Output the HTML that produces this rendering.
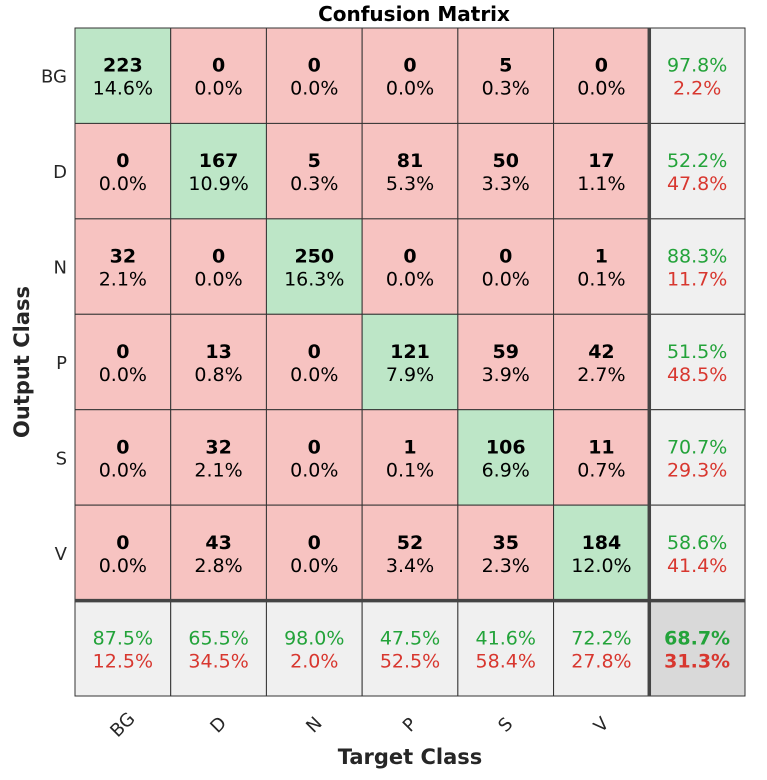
<!DOCTYPE html>
<html><head><meta charset="utf-8"><style>
html,body{margin:0;padding:0;background:#fff;}
svg{display:block;font-family:"DejaVu Sans","Liberation Sans",sans-serif;}
</style></head><body>
<svg id="chart" width="767" height="780" viewBox="0 0 767 780" xmlns="http://www.w3.org/2000/svg">
<text x="414" y="21" text-anchor="middle" font-size="20" font-weight="bold" fill="#000">Confusion Matrix</text>
<text x="410" y="764" text-anchor="middle" font-size="21" font-weight="bold" fill="#262626">Target Class</text>
<text transform="translate(29,362) rotate(-90)" text-anchor="middle" font-size="21" font-weight="bold" fill="#262626">Output Class</text>
<g id="cells"></g>
</svg>
<script>
const classes = ["BG","D","N","P","S","V"];
const counts = [
  [223,0,0,0,5,0],
  [0,167,5,81,50,17],
  [32,0,250,0,0,1],
  [0,13,0,121,59,42],
  [0,32,0,1,106,11],
  [0,43,0,52,35,184]
];
const NS="http://www.w3.org/2000/svg";
const svg=document.getElementById('chart');
const g=document.getElementById('cells');
const x0=75,y0=28,cw=(745-75)/7,ch=(696-28)/7;
const n=classes.length;
const total=counts.flat().reduce((a,b)=>a+b,0);
function colX(j){return x0+j*cw;}
function rowY(i){return y0+i*ch;}
function rect(x,y,w,h,fill,name){const r=document.createElementNS(NS,'rect');r.setAttribute('x',x);r.setAttribute('y',y);r.setAttribute('width',w);r.setAttribute('height',h);r.setAttribute('fill',fill);r.setAttribute('stroke','#333');r.setAttribute('stroke-width','1');


g.appendChild(r);}
function txt(x,y,s,fill,bold,name){const t=document.createElementNS(NS,'text');t.setAttribute('x',x);t.setAttribute('y',y);t.setAttribute('text-anchor','middle');t.setAttribute('font-size','19');t.setAttribute('fill',fill);if(bold)t.setAttribute('font-weight','bold');t.textContent=s;


g.appendChild(t);}
const pct=v=>(v*100).toFixed(1)+'%';
const GREEN='#23a33a',RED='#d8372f';
const L1=-4,L2=19;
for(let i=0;i<n;i++){
  for(let j=0;j<n;j++){
    const x=colX(j),y=rowY(i);
    rect(x,y,cw,ch,i===j?'#bde6c7':'#f7c3c1','cell-'+classes[i]+'-'+classes[j]);
    txt(x+cw/2,y+ch/2+L1,String(counts[i][j]),'#000',true,'cell-count');
    txt(x+cw/2,y+ch/2+L2,pct(counts[i][j]/total),'#000',false,'cell-percent');
  }
  const rs=counts[i].reduce((a,b)=>a+b,0);const acc=rs?counts[i][i]/rs:0;
  const x=colX(n),y=rowY(i);
  rect(x,y,cw,ch,'#f0f0f0','row-summary-'+classes[i]);
  txt(x+cw/2,y+ch/2+L1,pct(acc),GREEN,false,'row-precision');
  txt(x+cw/2,y+ch/2+L2,pct(1-acc),RED,false,'row-error');
  const lt=document.createElementNS(NS,'text');lt.setAttribute('x',67);lt.setAttribute('y',y+ch/2+7);lt.setAttribute('text-anchor','end');lt.setAttribute('font-size','18');lt.setAttribute('fill','#262626');lt.textContent=classes[i];
  
  
  svg.appendChild(lt);
}
let diag=0;
for(let j=0;j<n;j++){
  let cs=0;for(let i=0;i<n;i++)cs+=counts[i][j];diag+=counts[j][j];
  const acc=cs?counts[j][j]/cs:0;const x=colX(j),y=rowY(n);
  rect(x,y,cw,ch,'#f0f0f0','col-summary-'+classes[j]);
  txt(x+cw/2,y+ch/2+L1,pct(acc),GREEN,false,'col-recall');
  txt(x+cw/2,y+ch/2+L2,pct(1-acc),RED,false,'col-error');
  const lt=document.createElementNS(NS,'text');const cx=x+cw/2+4,cy=729;
  lt.setAttribute('transform','translate('+cx+','+cy+') rotate(-45)');lt.setAttribute('text-anchor','middle');lt.setAttribute('font-size','18');lt.setAttribute('fill','#262626');lt.textContent=classes[j];
  
  
  svg.appendChild(lt);
}
const oa=diag/total;
rect(colX(n),rowY(n),cw,ch,'#d9d9d9','overall-summary');
txt(colX(n)+cw/2,rowY(n)+ch/2+L1,pct(oa),GREEN,true,'overall-accuracy');
txt(colX(n)+cw/2,rowY(n)+ch/2+L2,pct(1-oa),RED,true,'overall-error');
function line(x1,y1,x2,y2){const l=document.createElementNS(NS,'line');l.setAttribute('x1',x1);l.setAttribute('y1',y1);l.setAttribute('x2',x2);l.setAttribute('y2',y2);l.setAttribute('stroke','#444');l.setAttribute('stroke-width','3.5');


g.appendChild(l);}
line(colX(n),y0,colX(n),696);
line(x0,rowY(n),745,rowY(n));
</script>
</body></html>
